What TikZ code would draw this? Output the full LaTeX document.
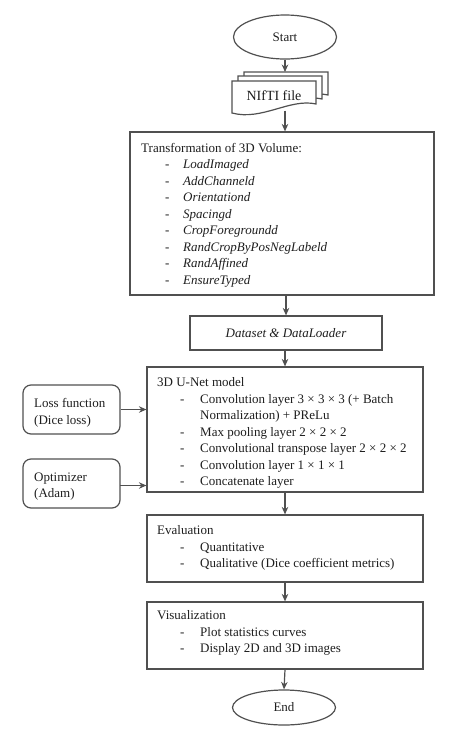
\documentclass[tikz,border=0pt]{standalone}
\usepackage{fontspec}
\setmainfont{Liberation Serif}
\usetikzlibrary{arrows.meta,shapes.geometric}
\definecolor{ln}{HTML}{505050}
\definecolor{tx}{HTML}{1E1E1E}
\newcommand{\itmT}[1]{\hspace*{24pt}\makebox[18pt][l]{-}#1}
\newcommand{\itmU}[1]{\hspace*{23pt}\makebox[20pt][l]{-}#1}
\tikzset{
  every node/.style={text=tx},
  boxline/.style={draw=ln, line width=1.2pt},
  procbox/.style={boxline, rectangle, inner sep=0pt, fill=white},
  sidebox/.style={boxline, rectangle, rounded corners=8pt, inner sep=0pt},
  termbox/.style={boxline, ellipse, inner sep=0pt},
  txt/.style={anchor=north west, inner sep=0pt, align=left, font=\fontsize{13}{16.5}\selectfont},
  arr/.style={draw=ln, line width=1.2pt, -{Stealth[length=7.5pt,width=6.5pt]}},
  docshape/.style={draw=ln, line width=1.2pt, fill=white}
}
\begin{document}
\begin{tikzpicture}[x=1pt,y=-1pt]
\useasboundingbox (0,0) rectangle (474,745);

% terminals
\node[termbox, minimum width=103pt, minimum height=44pt, font=\fontsize{13}{15}\selectfont] (start) at (285,37) {Start};
\node[termbox, minimum width=103pt, minimum height=35pt, font=\fontsize{13}{15}\selectfont] (end) at (284,707.5) {End};

% multi-document stack
\foreach \dx/\dy in {12/-9, 6/-5, 0/0}{
  \draw[docshape, shift={(\dx,\dy)}] (232,81) -- (316,81) -- (316,104)
     .. controls (290,98) and (262,121) .. (232,113) -- cycle;
}
\node[inner sep=0pt, minimum width=84pt, minimum height=32pt, font=\fontsize{14}{16}\selectfont] (nifti) at (274,96) {NIfTI file};
\coordinate (stackTop) at (285,72);
\coordinate (stackBot) at (285,110.5);

% main boxes
\node[procbox, minimum width=304pt, minimum height=163pt] (trans) at (282,213.5) {};
\node[procbox, minimum width=192pt, minimum height=34pt, font=\fontsize{13}{15}\selectfont\itshape] (data) at (286,333) {Dataset \& DataLoader};
\node[procbox, minimum width=276pt, minimum height=125pt] (unet) at (285,429.5) {};
\node[procbox, minimum width=276pt, minimum height=67pt] (eval) at (285,548.5) {};
\node[procbox, minimum width=276pt, minimum height=67pt] (vis) at (285,635.5) {};
\node[sidebox, minimum width=97pt, minimum height=49pt] (loss) at (71.5,409.5) {};
\node[sidebox, minimum width=97pt, minimum height=49pt] (opt) at (71.5,483.5) {};
\coordinate (optOut) at (120,485.5);

% texts
\node[txt] (transtxt) at (141,143) {Transformation of 3D Volume:\\
\itmT{\textit{LoadImaged}}\\
\itmT{\textit{AddChanneld}}\\
\itmT{\textit{Orientationd}}\\
\itmT{\textit{Spacingd}}\\
\itmT{\textit{CropForegroundd}}\\
\itmT{\textit{RandCropByPosNegLabeld}}\\
\itmT{\textit{RandAffined}}\\
\itmT{\textit{EnsureTyped}}};

\node[txt] (unettxt) at (157,377.6) {3D U-Net model\\
\itmU{Convolution layer 3 × 3 × 3 (+ Batch}\\
\hspace*{43pt}Normalization) + PReLu\\
\itmU{Max pooling layer 2 × 2 × 2}\\
\itmU{Convolutional transpose layer 2 × 2 × 2}\\
\itmU{Convolution layer 1 × 1 × 1}\\
\itmU{Concatenate layer}};

\node[txt] (evaltxt) at (157,525.6) {Evaluation\\
\itmU{Quantitative}\\
\itmU{Qualitative (Dice coefficient metrics)}};

\node[txt] (vistxt) at (157,610.6) {Visualization\\
\itmU{Plot statistics curves}\\
\itmU{Display 2D and 3D images}};

\node[txt] (losstxt) at (34,398.6) {Loss function\\(Dice loss)};
\node[txt] (opttxt) at (34,472.6) {Optimizer\\(Adam)};

% connectors
\draw[arr] (start.south) -- (stackTop);
\draw[arr] (stackBot) -- (stackBot |- trans.north);
\draw[arr] (data.north |- trans.south) -- (data.north);
\draw[arr] (unet.north |- data.south) -- (unet.north);
\draw[arr] (unet.south) -- (eval.north);
\draw[arr] (eval.south) -- (vis.north);
\draw[arr] (vis.south) -- (end.north);
\draw[arr] (loss.east) -- (loss.east -| unet.west);
\draw[arr] (optOut) -- (optOut -| unet.west);
\end{tikzpicture}
\end{document}
